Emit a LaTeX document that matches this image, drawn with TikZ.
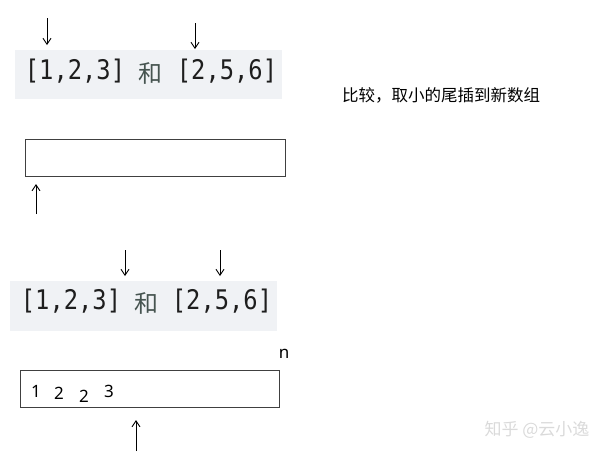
\documentclass[tikz,border=0pt]{standalone}
\usepackage{fontspec}
\usetikzlibrary{positioning,arrows.meta}
\newfontfamily\cjkfont{Noto Sans CJK SC}
\newfontfamily\monofont{DejaVu Sans Mono}
\newfontfamily\numfont{Noto Sans}
\definecolor{panelgray}{RGB}{240,242,245}
\definecolor{textdark}{RGB}{30,30,30}
\definecolor{hegray}{RGB}{70,84,80}
\definecolor{markgray}{RGB}{218,218,218}

\begin{document}
\begin{tikzpicture}[x=1pt,y=-1pt,
        arr/.style={-{Straight Barb[length=6pt,width=8pt]}, line width=0.9pt},
        panel/.style={fill=panelgray, draw=none},
        arrtext/.style={inner sep=0pt, text=textdark, font=\monofont\fontsize{27}{27}\selectfont, xscale=0.88, transform shape},
        hetext/.style={inner sep=0pt, text=hegray, font=\cjkfont\fontsize{24}{24}\selectfont},
        slot/.style={draw=textdark!85, line width=0.8pt, minimum width=260pt, minimum height=37pt, inner sep=0pt},
        num/.style={inner sep=0pt, font=\numfont\fontsize{17}{17}\selectfont}]
            \useasboundingbox (0,0) rectangle (610,456);

            % first step
            \fill [panel] (15,50) rectangle (282,99);
            \node [arrtext] (left1) at (75,71) {[1,2,3]};
            \node [hetext] (he1) at (150,73) {和};
            \node [arrtext] (right1) at (227,71) {[2,5,6]};
            \node [inner sep=0pt, font=\cjkfont\fontsize{16.5}{16.5}\selectfont, anchor=west] (note) at (342,95) {比较，取小的尾插到新数组};
            \node [slot] (box1) at (155,157.5) {};

            \coordinate (a1s) at (47,18);  \coordinate (a1e) at (47,45);
            \coordinate (a2s) at (195,23); \coordinate (a2e) at (195,49);
            \coordinate (a3s) at (36,214); \coordinate (a3e) at (36,184);
            \draw [arr] (a1s) -- (a1e);
            \draw [arr] (a2s) -- (a2e);
            \draw [arr] (a3s) -- (a3e);

            % second step
            \fill [panel] (10,281) rectangle (277,331);
            \node [arrtext] (left2) at (71,301) {[1,2,3]};
            \node [hetext] (he2) at (146,303) {和};
            \node [arrtext] (right2) at (222,301) {[2,5,6]};
            \node [slot, minimum width=259pt] (box2) at (149.5,389) {};
            \node [num] (n) at (284,354) {n};
            \node [num] (v1) at (36,391) {1};
            \node [num] (v2) at (59,393) {2};
            \node [num] (v3) at (84,396) {2};
            \node [num] (v4) at (109,391) {3};

            \coordinate (b1s) at (125,250); \coordinate (b1e) at (125,276);
            \coordinate (b2s) at (220,250); \coordinate (b2e) at (220,276);
            \coordinate (b3s) at (136,451); \coordinate (b3e) at (136,420);
            \draw [arr] (b1s) -- (b1e);
            \draw [arr] (b2s) -- (b2e);
            \draw [arr] (b3s) -- (b3e);

            \node [inner sep=0pt, text=markgray, font=\cjkfont\fontsize{17}{17}\selectfont] (mark) at (537,430) {知乎 @云小逸};
        \end{tikzpicture}
\end{document}
